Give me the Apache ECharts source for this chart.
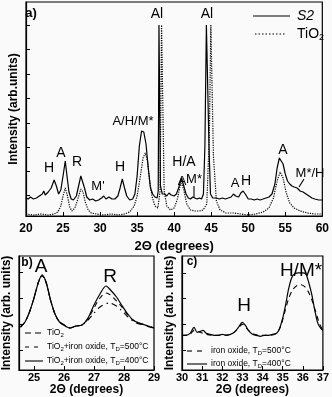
<!DOCTYPE html>
<html>
<head>
<meta charset="utf-8">
<script src="https://cdn.jsdelivr.net/npm/echarts@6/dist/echarts.min.js"></script>
<style>
  html, body { margin: 0; padding: 0; background: #fafafa; }
  #chart { width: 332px; height: 397px; }
</style>
</head>
<body>
<div id="chart"></div>
<script>
// panel a) 2theta vs intensity (arb. units)
const s2A = [
  [20.0, 18], [20.3, 17], [20.6, 19], [21.0, 17], [21.4, 18], [21.8, 20], [22.2, 22], [22.4, 25], [22.6, 21],
  [23.0, 24], [23.4, 28], [23.8, 36], [24.1, 30], [24.4, 22], [24.7, 26], [25.0, 40], [25.3, 55], [25.5, 42],
  [25.8, 24], [26.1, 17], [26.4, 16], [26.8, 20], [27.1, 30], [27.4, 40], [27.6, 39], [27.9, 28], [28.2, 19],
  [28.6, 16], [29.0, 17], [29.4, 15], [29.8, 16], [30.2, 18], [30.5, 20], [30.8, 17], [31.2, 19], [31.6, 17],
  [32.0, 17], [32.4, 20], [32.7, 28], [33.0, 37], [33.3, 28], [33.6, 20], [34.0, 16], [34.4, 17], [34.7, 22],
  [35.0, 40], [35.3, 70], [35.6, 85], [35.9, 84], [36.2, 72], [36.5, 48], [36.8, 28], [37.1, 22], [37.4, 19],
  [37.7, 18], [37.85, 25], [37.95, 191], [38.05, 191], [38.15, 30], [38.4, 22], [38.7, 22], [39.0, 20],
  [39.3, 23], [39.6, 21], [40.0, 20], [40.3, 22], [40.6, 28], [41.0, 38], [41.3, 30], [41.6, 22], [41.9, 18],
  [42.2, 17], [42.5, 19], [42.8, 18], [43.1, 17], [43.4, 18], [43.7, 17], [43.95, 22], [44.15, 70], [44.35, 191],
  [44.5, 191], [44.7, 70], [44.9, 22], [45.2, 18], [45.7, 18], [46.1, 17], [46.5, 18], [46.9, 17], [47.3, 18],
  [47.7, 19], [48.0, 22], [48.3, 20], [48.7, 19], [49.0, 23], [49.3, 25], [49.6, 22], [50.0, 17], [50.4, 17],
  [50.8, 16], [51.2, 17], [51.6, 16], [52.0, 17], [52.4, 18], [52.8, 19], [53.2, 22], [53.6, 32], [53.9, 48],
  [54.2, 58], [54.4, 60], [54.7, 52], [55.0, 42], [55.3, 35], [55.6, 32], [55.9, 30], [56.2, 29], [56.6, 28],
  [57.0, 25], [57.4, 24], [57.8, 22], [58.2, 20], [58.6, 18], [59.0, 17], [59.5, 16], [60.0, 16]
];
const tio2A = [
  [20.0, 2], [21.0, 1], [22.0, 2], [23.0, 1], [23.8, 2], [24.3, 4], [24.7, 10], [25.0, 20], [25.3, 28],
  [25.6, 20], [25.9, 9], [26.2, 5], [26.6, 8], [27.0, 17], [27.4, 27], [27.7, 24], [28.0, 14], [28.4, 6],
  [28.8, 3], [29.5, 2], [30.5, 1], [31.5, 2], [32.5, 1], [33.3, 2], [34.0, 4], [34.6, 10], [35.0, 20],
  [35.4, 38], [35.8, 58], [36.1, 63], [36.4, 55], [36.7, 35], [37.0, 20], [37.4, 10], [37.8, 8], [38.1, 25],
  [38.3, 191], [38.45, 191], [38.65, 25], [39.0, 10], [39.5, 6], [40.0, 8], [40.4, 16], [40.8, 30], [41.0, 33],
  [41.3, 26], [41.7, 12], [42.2, 6], [42.8, 5], [43.4, 5], [43.9, 6], [44.4, 12], [44.75, 80], [44.95, 191],
  [45.1, 191], [45.3, 60], [45.7, 15], [46.2, 6], [47.0, 3], [48.0, 3], [49.0, 2], [50.0, 1], [51.0, 2],
  [52.0, 4], [52.8, 8], [53.4, 18], [53.9, 35], [54.3, 44], [54.7, 38], [55.1, 24], [55.6, 13], [56.2, 8],
  [57.0, 5], [58.0, 3], [59.0, 2], [60.0, 2]
];

// panel b) zoom 24.5-29
const tio2B = [
  [24.55, 43], [24.7, 48], [24.85, 58], [25.0, 72], [25.15, 88], [25.27, 95], [25.4, 88], [25.55, 70],
  [25.7, 56], [25.85, 48], [26.0, 45], [26.2, 42], [26.4, 44], [26.6, 45], [26.8, 50], [27.0, 57],
  [27.2, 63], [27.5, 67], [27.75, 64], [27.9, 60], [28.1, 54], [28.3, 49], [28.5, 46], [28.7, 45], [29.0, 42]
];
const fe500B = [
  [24.55, 43], [24.7, 48], [24.85, 58], [25.0, 72], [25.15, 88], [25.27, 94], [25.4, 88], [25.55, 70],
  [25.7, 56], [25.85, 48], [26.0, 45], [26.2, 42], [26.4, 44], [26.6, 45], [26.8, 51], [27.0, 62],
  [27.2, 72], [27.4, 77], [27.55, 75], [27.75, 69], [27.9, 64], [28.1, 56], [28.3, 50], [28.5, 47],
  [28.7, 45], [29.0, 42]
];
const fe400B = [
  [24.55, 43], [24.7, 48], [24.85, 58], [25.0, 72], [25.15, 88], [25.27, 95], [25.4, 88], [25.55, 70],
  [25.7, 56], [25.85, 48], [26.0, 45], [26.1, 43], [26.2, 42], [26.3, 43], [26.4, 44], [26.6, 45],
  [26.8, 52], [27.0, 65], [27.2, 76], [27.4, 84], [27.55, 80], [27.75, 73], [27.9, 66], [28.1, 57],
  [28.3, 50], [28.5, 47], [28.7, 45], [28.85, 43], [29.0, 42]
];

// panel c) zoom 30-37
const fe500C = [
  [30.0, 35], [30.4, 36], [30.6, 40], [30.9, 38], [31.2, 36], [31.6, 35], [32.0, 35], [32.4, 36], [32.7, 40],
  [33.0, 46], [33.3, 40], [33.6, 36], [34.0, 35], [34.4, 35], [34.7, 37], [34.9, 44], [35.1, 58], [35.3, 72],
  [35.5, 81], [35.7, 85], [35.9, 86], [36.1, 84], [36.3, 78], [36.5, 68], [36.7, 55], [36.85, 46], [37.0, 40]
];
const fe400C = [
  [30.0, 35], [30.2, 35], [30.4, 37], [30.6, 43], [30.75, 38], [30.9, 39], [31.05, 40], [31.2, 37],
  [31.4, 36], [31.6, 35], [31.8, 35], [32.0, 36], [32.2, 35], [32.4, 36], [32.6, 38], [32.8, 43], [33.0, 48],
  [33.15, 45], [33.3, 40], [33.5, 36], [33.7, 35], [33.9, 34], [34.1, 35], [34.3, 35], [34.5, 36], [34.7, 37],
  [34.85, 42], [35.0, 52], [35.15, 66], [35.3, 82], [35.45, 93], [35.6, 97], [35.8, 98], [36.0, 98],
  [36.15, 97], [36.3, 88], [36.45, 76], [36.6, 60], [36.75, 47], [36.9, 42], [37.0, 40]
];

const xTicksA = [20, 25, 30, 35, 40, 45, 50, 55, 60];
const yTicksA = [21, 45, 69, 93, 118, 142, 167, 191];
const xTicksB = [25, 26, 27, 28, 29];
const xTicksC = [30, 31, 32, 33, 34, 35, 36, 37];

const FONT = 'Liberation Sans, Arial, sans-serif';
const chart = echarts.init(document.getElementById('chart'), null, { renderer: 'canvas' });

function xAx(grid, min, max, ticks, fs, gap, nameGap) {
  return {
    type: 'value', gridIndex: grid, min: min, max: max,
    name: '2\u0398 (degrees)', nameLocation: 'middle', nameGap: nameGap,
    nameTextStyle: { fontFamily: FONT, fontWeight: 'bold', fontSize: fs + 1, color: '#000' },
    axisLine: { lineStyle: { color: '#000', width: 1.2 } },
    axisTick: { inside: true, length: 4, customValues: ticks, lineStyle: { color: '#000' } },
    axisLabel: { customValues: ticks, margin: gap, fontFamily: FONT, fontWeight: 'bold', fontSize: fs, color: '#000' },
    splitLine: { show: false }
  };
}
function yAx(grid, max, ticks, nameGap, fs) {
  return {
    type: 'value', gridIndex: grid, min: 0, max: max,
    name: 'Intensity (arb.' + (grid === 0 ? '' : ' ') + 'units)', nameLocation: 'middle', nameRotate: 90, nameGap: nameGap,
    nameTextStyle: { fontFamily: FONT, fontWeight: 'bold', fontSize: fs, color: '#000' },
    axisLine: { lineStyle: { color: '#000', width: 1.2 } },
    axisTick: { inside: true, length: 4, customValues: ticks, lineStyle: { color: '#000' } },
    axisLabel: { show: false },
    splitLine: { show: false }
  };
}
function txt(x, y, text, size, extra) {
  return {
    type: 'text', x: x, y: y, silent: true,
    style: Object.assign({ text: text, font: size + 'px ' + FONT, fill: '#000', align: 'center', verticalAlign: 'middle' }, extra || {})
  };
}
function seg(x1, y1, x2, y2, dash) {
  return {
    type: 'line', silent: true, shape: { x1: x1, y1: y1, x2: x2, y2: y2 },
    style: { stroke: '#000', lineWidth: 1.1, lineDash: dash || null }
  };
}
const sub = {
  n: { fontFamily: FONT, fontSize: 8.5, fill: '#000', lineHeight: 11 },
  s: { fontFamily: FONT, fontSize: 6, fill: '#000', padding: [5, 0, 0, 0], lineHeight: 11 }
};
function legText(x, y, rich) {
  return { type: 'text', x: x, y: y, silent: true, style: { text: rich, rich: sub, align: 'left', verticalAlign: 'middle' } };
}

chart.setOption({
  animation: false,
  backgroundColor: '#fafafa',
  grid: [
    { left: 19, top: 2, width: 307, height: 214, show: true, borderColor: '#000', borderWidth: 1.2, backgroundColor: 'transparent' },
    { left: 18, top: 256, width: 136, height: 114, show: true, borderColor: '#000', borderWidth: 1.2, backgroundColor: 'transparent' },
    { left: 182, top: 256, width: 141, height: 115, show: true, borderColor: '#000', borderWidth: 1.2, backgroundColor: 'transparent' }
  ],
  xAxis: [
    xAx(0, 20, 60, xTicksA, 12, 7, 22),
    xAx(1, 24.5, 29, xTicksB, 11, 2, 14),
    xAx(2, 30, 37, xTicksC, 11, 2, 14)
  ],
  yAxis: [
    yAx(0, 214, yTicksA, 6, 12),
    yAx(1, 114, [20, 46, 72, 98], 6, 12),
    yAx(2, 115, [20, 46, 72, 98], 6, 12)
  ],
  series: [
    { type: 'line', name: 'TiO2', xAxisIndex: 0, yAxisIndex: 0, data: tio2A, symbol: 'none',
      lineStyle: { color: '#000', width: 1.2, type: 'dotted' } },
    { type: 'line', name: 'S2', xAxisIndex: 0, yAxisIndex: 0, data: s2A, symbol: 'none',
      lineStyle: { color: '#000', width: 1.2 } },
    { type: 'line', name: 'TiO2 b', xAxisIndex: 1, yAxisIndex: 1, data: tio2B, symbol: 'none', smooth: 0.3,
      lineStyle: { color: '#000', width: 1.1, type: [6, 4, 1.5, 4] } },
    { type: 'line', name: '500 b', xAxisIndex: 1, yAxisIndex: 1, data: fe500B, symbol: 'none', smooth: 0.3,
      lineStyle: { color: '#000', width: 1.1, type: [5, 4] } },
    { type: 'line', name: '400 b', xAxisIndex: 1, yAxisIndex: 1, data: fe400B, symbol: 'none', smooth: 0.3,
      lineStyle: { color: '#000', width: 1.2 } },
    { type: 'line', name: '500 c', xAxisIndex: 2, yAxisIndex: 2, data: fe500C, symbol: 'none', smooth: 0.3,
      lineStyle: { color: '#000', width: 1.1, type: [5, 4] } },
    { type: 'line', name: '400 c', xAxisIndex: 2, yAxisIndex: 2, data: fe400C, symbol: 'none', smooth: 0.3,
      lineStyle: { color: '#000', width: 1.2 } }
  ],
  graphic: [
    // panel a
    txt(31, 13, 'a)', 13, { font: 'bold 13px ' + FONT }),
    txt(157, 14, 'Al', 14), txt(207, 14, 'Al', 14),
    seg(253, 16, 290, 16), txt(297, 16, 'S2', 14, { align: 'left', font: 'italic 14px ' + FONT }),
    seg(255, 34, 286, 34, [1.5, 2]),
    { type: 'text', x: 297, y: 34, silent: true, style: { text: '{n|TiO}{s|2}', align: 'left', verticalAlign: 'middle',
      rich: { n: { fontFamily: FONT, fontSize: 14, fill: '#000', lineHeight: 16 },
              s: { fontFamily: FONT, fontSize: 9, fill: '#000', padding: [8, 0, 0, 0], lineHeight: 16 } } } },
    txt(49, 168, 'H', 14), txt(61, 153, 'A', 14), txt(77, 162, 'R', 14), txt(98, 186, "M'", 13),
    txt(120, 167, 'H', 14), txt(133, 121, 'A/H/M*', 13), txt(184, 162, 'H/A', 14),
    txt(182, 181, 'A', 13), txt(194, 179, 'M*', 13), seg(194, 186, 194, 197),
    txt(235, 183, 'A', 13), txt(246, 181, 'H', 14), txt(283, 150, 'A', 14), txt(310, 173, 'M*/H', 13),
    seg(304, 179, 299, 187),
    // panel b
    txt(27, 263, 'b)', 12, { font: 'bold 12px ' + FONT }),
    txt(41, 267, 'A', 19), txt(110, 277, 'R', 19),
    seg(25, 333, 43, 333, [6, 4]), legText(47, 333, '{n|TiO}{s|2}'),
    seg(25, 347, 43, 347, [4, 5]), legText(47, 347, '{n|TiO}{s|2}{n|+iron oxide, T}{s|D}{n|=500°C}'),
    seg(25, 361, 43, 361), legText(47, 361, '{n|TiO}{s|2}{n|+iron oxide, T}{s|D}{n|=400°C}'),
    // panel c
    txt(192, 262, 'c)', 12, { font: 'bold 12px ' + FONT }),
    txt(244, 306, 'H', 19), txt(301, 271, 'H/M*', 19),
    seg(187, 351, 207, 351, [5, 5]), legText(211, 351, '{n|iron oxide, T}{s|D}{n|=500°C}'),
    seg(187, 364, 207, 364), legText(211, 364, '{n|iron oxide, T}{s|D}{n|=400°C}')
  ]
});
</script>
</body>
</html>
